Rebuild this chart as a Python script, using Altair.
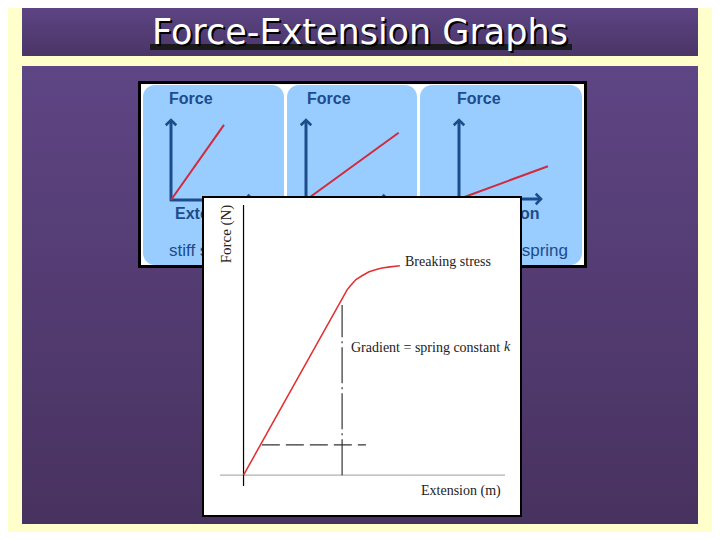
import altair as alt
import pandas as pd

# ---------------- data ----------------
# main force-extension curve (arbitrary units)
extension = [0.0, 3.96, 4.08, 4.19, 4.3, 4.53, 4.8, 5.11, 5.3, 5.6, 5.98]
force = [0.0, 6.86, 7.0, 7.12, 7.24, 7.38, 7.53, 7.62, 7.67, 7.71, 7.75]

# dashed gradient-construction guides
guide_h_force = 1.12
guide_h_ext = [0.7, 4.68]
guide_v_ext = 3.77
guide_v_force = [0.0, 6.3]

# three small spring graphs (end point of each line, axis length = 10)
panel_names = ["stiff spring", "spring", "less stiff spring"]
panel_end_ext = [6.46, 11.3, 10.85]
panel_end_force = [9.4, 8.4, 4.1]

# ---------------- styling helpers ----------------
CREAM = "#FFFFCC"
NAVY = "#1c4c8c"
RED = "#d02a3c"
one = pd.DataFrame({"_": [0]})


def px(v):
    return v - 8


def rect(x1, y1, x2, y2, **kw):
    return alt.Chart(one).mark_rect(**kw).encode(
        x=alt.value(px(x1)), x2=alt.value(px(x2)),
        y=alt.value(px(y1)), y2=alt.value(px(y2)))


def label(txt, x, y, **kw):
    return alt.Chart(one).mark_text(text=txt, **kw).encode(
        x=alt.value(px(x)), y=alt.value(px(y)))


def vrule(x, y1, y2, **kw):
    return alt.Chart(one).mark_rule(**kw).encode(
        x=alt.value(px(x)), y=alt.value(px(y1)), y2=alt.value(px(y2)))


def hrule(y, x1, x2, **kw):
    return alt.Chart(one).mark_rule(**kw).encode(
        y=alt.value(px(y)), x=alt.value(px(x1)), x2=alt.value(px(x2)))


def head(x, y, path):
    return alt.Chart(one).mark_point(shape=path, filled=False, size=110,
                                     strokeWidth=2.6, color=NAVY, opacity=1).encode(
        x=alt.value(px(x)), y=alt.value(px(y)))


def grad(top, bottom):
    return alt.Gradient(gradient="linear",
                        stops=[alt.GradientStop(color=top, offset=0),
                               alt.GradientStop(color=bottom, offset=1)],
                        x1=0, x2=0, y1=0, y2=1)


layers = []

# slide background
layers.append(rect(22, 0, 698, 56, fill=grad("#5f4788", "#4a3566")))
layers.append(rect(22, 66, 698, 524, fill=grad("#5e4584", "#48325f")))

# title
layers.append(rect(150, 44, 572, 50, fill="#1a1a1a"))
layers.append(label("Force-Extension Graphs", 362, 46, font="DejaVu Sans", fontSize=35,
                    color="black", baseline="alphabetic", align="center"))
layers.append(label("Force-Extension Graphs", 360, 44, font="DejaVu Sans", fontSize=35,
                    color="white", baseline="alphabetic", align="center"))

# picture of the three spring graphs
layers.append(rect(138, 81, 587, 268, fill="black"))
layers.append(rect(141, 84, 584, 265, fill="white"))
panel_boxes = [(143, 284), (287, 417), (420, 582)]
for (a, b) in panel_boxes:
    layers.append(rect(a, 85, b, 265, fill="#99ccff", cornerRadius=12))

origins = [(171, 200), (306, 200), (459, 199)]
UP = "M-1,1L0,0L1,1"
RIGHT = "M-1,-1L0,0L-1,1"
for i, (ox, oy) in enumerate(origins):
    layers.append(vrule(ox, oy + 1, 121, color=NAVY, strokeWidth=3))
    layers.append(hrule(oy, ox - 1, ox + 81, color=NAVY, strokeWidth=3))
    layers.append(head(ox, 120, UP))
    layers.append(head(ox + 82, oy, RIGHT))
    df = pd.DataFrame({"e0": [0.0], "f0": [0.0],
                       "e1": [panel_end_ext[i]], "f1": [panel_end_force[i]]})
    sx = alt.Scale(domain=[0, 10], range=[px(ox), px(ox + 82)])
    sy = alt.Scale(domain=[0, 10], range=[px(oy), px(oy - 80)])
    layers.append(alt.Chart(df).mark_rule(color=RED, strokeWidth=2).encode(
        x=alt.X("e0:Q", scale=sx, axis=None), x2="e1:Q",
        y=alt.Y("f0:Q", scale=sy, axis=None), y2="f1:Q"))

force_x = [169, 307, 457]
for i, (ox, oy) in enumerate(origins):
    layers.append(label("Force", force_x[i], 99, font="Liberation Sans", fontSize=16,
                        fontWeight="bold", color=NAVY, align="left", baseline="middle"))
    layers.append(label("Extension", ox + 4, 214, font="Liberation Sans", fontSize=16,
                        fontWeight="bold", color=NAVY, align="left", baseline="middle"))
layers.append(label(panel_names[0], 169, 251, font="Liberation Sans", fontSize=17,
                    color=NAVY, align="left", baseline="middle"))
layers.append(label(panel_names[1], 322, 251, font="Liberation Sans", fontSize=17,
                    color=NAVY, align="left", baseline="middle"))
layers.append(label(panel_names[2], 568, 251, font="Liberation Sans", fontSize=17,
                    color=NAVY, align="right", baseline="middle"))

# main force-extension graph
layers.append(rect(203, 197, 521, 516, fill="white", stroke="black", strokeWidth=2))

mx = alt.Scale(domain=[-0.9, 10], range=[px(220), px(505)])
my = alt.Scale(domain=[-0.4, 10], range=[px(486), px(205)])

axes_x = pd.DataFrame({"x": [-0.9], "x2": [10.0], "y": [0.0]})
axes_y = pd.DataFrame({"x": [0.0], "y": [-0.4], "y2": [10.0]})
layers.append(alt.Chart(axes_x).mark_rule(color="#b0b0b0", strokeWidth=1.2).encode(
    x=alt.X("x:Q", scale=mx, axis=None), x2="x2:Q",
    y=alt.Y("y:Q", scale=my, axis=None)))
layers.append(alt.Chart(axes_y).mark_rule(color="black", strokeWidth=1.2).encode(
    x=alt.X("x:Q", scale=mx, axis=None),
    y=alt.Y("y:Q", scale=my, axis=None), y2="y2:Q"))

gh = pd.DataFrame({"x": [guide_h_ext[0]], "x2": [guide_h_ext[1]], "y": [guide_h_force]})
gv = pd.DataFrame({"x": [guide_v_ext], "y": [guide_v_force[0]], "y2": [guide_v_force[1]]})
layers.append(alt.Chart(gh).mark_rule(color="#333333", strokeWidth=1.2,
                                      strokeDash=[18, 6]).encode(
    x=alt.X("x:Q", scale=mx, axis=None), x2="x2:Q",
    y=alt.Y("y:Q", scale=my, axis=None)))
layers.append(alt.Chart(gv).mark_rule(color="#333333", strokeWidth=1.2,
                                      strokeDash=[36, 4, 2, 4]).encode(
    x=alt.X("x:Q", scale=mx, axis=None),
    y=alt.Y("y:Q", scale=my, axis=None), y2="y2:Q"))

curve = pd.DataFrame({"extension": extension, "force": force})
layers.append(alt.Chart(curve).mark_line(color="#e03434", strokeWidth=1.6,
                                         interpolate="linear").encode(
    x=alt.X("extension:Q", scale=mx, axis=None),
    y=alt.Y("force:Q", scale=my, axis=None),
    order="extension:Q"))

SERIF = "Liberation Serif"
layers.append(label("Breaking stress", 405, 262, font=SERIF, fontSize=14, color="#222",
                    align="left", baseline="middle"))
layers.append(label("Gradient = spring constant", 351, 348, font=SERIF, fontSize=14,
                    color="#222", align="left", baseline="middle"))
layers.append(label("k", 504, 347, font=SERIF, fontSize=14, fontStyle="italic",
                    color="#222", align="left", baseline="middle"))
layers.append(label("Extension (m)", 421, 491, font=SERIF, fontSize=14, color="#222",
                    align="left", baseline="middle"))
layers.append(label("Force (N)", 226, 234, font=SERIF, fontSize=15, color="#222",
                    align="center", baseline="middle", angle=270))

chart = alt.layer(*layers).resolve_scale(x="independent", y="independent").properties(
    width=704, height=524, autosize=alt.AutoSizeParams(type="none"), padding=0,
    background=CREAM
).configure_view(stroke=None)

chart.save("out.html", embed_options={"renderer": "svg", "actions": False})
